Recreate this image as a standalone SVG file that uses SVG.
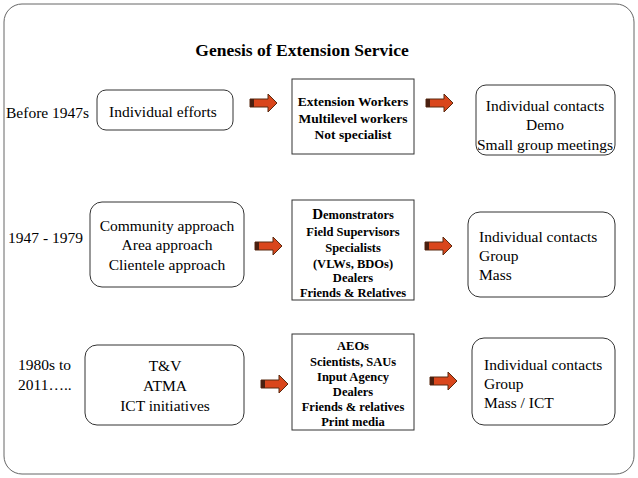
<svg xmlns="http://www.w3.org/2000/svg" width="638" height="478" viewBox="0 0 638 478">
<style>
text{font-family:"Liberation Serif","Times New Roman",serif;fill:#000}
.r{fill:#fff;stroke:#333;stroke-width:1}
.s{fill:#fff;stroke:#333;stroke-width:1}
.t{font-size:15.5px}
.b{font-size:13.5px;font-weight:bold}
.c{font-size:12.5px;font-weight:bold}
.ar{fill:#d9461c;stroke:#5a2a10;stroke-width:1}
</style>
<defs>
<g id="arr"><path class="ar" d="M0,-4 H18 V-9 L27,0 L18,9 V4 H0 Z"/><rect x="0" y="-4" width="4" height="8" fill="#4a2010"/></g>
</defs>
<rect x="4" y="4" width="630" height="470" rx="18" fill="#fff" stroke="#666"/>
<text x="302" y="56" text-anchor="middle" font-size="17.5" font-weight="bold">Genesis of Extension Service</text>
<g id="connectors">
<use href="#arr" x="250" y="103"/><use href="#arr" x="426" y="103"/>
<use href="#arr" x="255" y="246"/><use href="#arr" x="425" y="246"/>
<use href="#arr" x="261" y="384"/><use href="#arr" x="430" y="381"/>
</g>
<g id="label1"><text class="t" x="6" y="118">Before 1947s</text></g>
<g id="n11"><rect class="r" x="97" y="90" width="136" height="40" rx="9"/><text class="t" x="163" y="117" text-anchor="middle">Individual efforts</text></g>
<g id="n12"><rect class="s" x="292" y="79" width="122" height="75"/><text class="b" x="353" y="106" text-anchor="middle">Extension Workers</text><text class="b" x="353" y="123" text-anchor="middle">Multilevel workers</text><text class="b" x="353" y="139" text-anchor="middle">Not specialist</text></g>
<g id="n13"><rect class="r" x="476" y="85" width="139" height="70" rx="10"/><text class="t" x="545" y="111" text-anchor="middle">Individual contacts</text><text class="t" x="545" y="130" text-anchor="middle">Demo</text><text class="t" x="545" y="150" text-anchor="middle">Small group meetings</text></g>
<g id="label2"><text class="t" x="8" y="243">1947 - 1979</text></g>
<g id="n21"><rect class="r" x="90" y="202" width="154" height="85" rx="12"/><text class="t" x="167" y="231" text-anchor="middle">Community approach</text><text class="t" x="167" y="250" text-anchor="middle">Area approach</text><text class="t" x="167" y="270" text-anchor="middle">Clientele approach</text></g>
<g id="n22"><rect class="s" x="292" y="200" width="122" height="100"/><text class="c" x="353" y="219" text-anchor="middle"><tspan font-size="15">D</tspan>emonstrators</text><text class="c" x="353" y="236" text-anchor="middle">Field Supervisors</text><text class="c" x="353" y="252" text-anchor="middle">Specialists</text><text class="c" x="353" y="268" text-anchor="middle">(VLWs, BDOs)</text><text class="c" x="353" y="282" text-anchor="middle">Dealers</text><text class="c" x="353" y="297" text-anchor="middle">Friends &amp; Relatives</text></g>
<g id="n23"><rect class="r" x="468" y="212" width="147" height="85" rx="12"/><text class="t" x="479" y="242">Individual contacts</text><text class="t" x="479" y="261">Group</text><text class="t" x="479" y="280">Mass</text></g>
<g id="label3"><text class="t" x="18" y="370">1980s to</text><text class="t" x="18" y="390">2011…..</text></g>
<g id="n31"><rect class="r" x="85" y="345" width="159" height="80" rx="12"/><text class="t" x="165" y="371" text-anchor="middle">T&amp;V</text><text class="t" x="165" y="391" text-anchor="middle">ATMA</text><text class="t" x="165" y="411" text-anchor="middle">ICT initiatives</text></g>
<g id="n32"><rect class="s" x="292" y="334" width="122" height="96"/><text class="c" x="353" y="350" text-anchor="middle">AEOs</text><text class="c" x="353" y="366" text-anchor="middle">Scientists, SAUs</text><text class="c" x="353" y="381" text-anchor="middle">Input Agency</text><text class="c" x="353" y="396" text-anchor="middle">Dealers</text><text class="c" x="353" y="411" text-anchor="middle">Friends &amp; relatives</text><text class="c" x="353" y="426" text-anchor="middle">Print media</text></g>
<g id="n33"><rect class="r" x="472" y="338" width="143" height="87" rx="12"/><text class="t" x="484" y="370">Individual contacts</text><text class="t" x="484" y="389">Group</text><text class="t" x="484" y="408">Mass / ICT</text></g>
</svg>
